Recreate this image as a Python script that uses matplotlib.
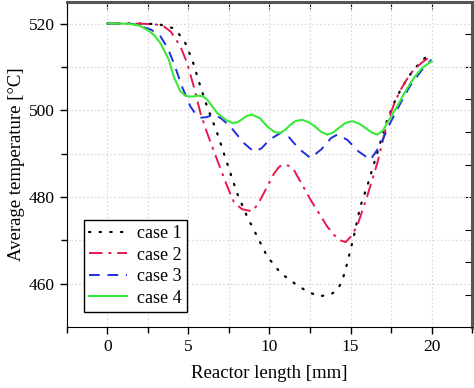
import matplotlib.pyplot as plt
import numpy as np
from matplotlib.ticker import MultipleLocator, FixedLocator

plt.rcParams['font.family'] = ['Liberation Serif', 'DejaVu Serif']

# case 1 (black dotted)
x1 = [0, 1, 2, 3, 3.5, 4.0, 4.3, 4.81, 5.23, 5.74, 6.15, 6.77, 7.39, 8.0, 8.62, 9.24, 9.86,
      10.68, 11.5, 12.33, 13.05, 13.77, 14.2, 14.5, 14.8, 15.2, 15.6, 16.03, 16.65, 17.26,
      17.7, 18.1, 18.5, 18.9, 19.5, 20]
y1 = [520, 520, 520, 519.9, 519.6, 519.0, 518.2, 515.5, 511.7, 505.5, 500.9, 494.8, 487.8, 480.9,
      475.5, 470.9, 466.3, 462.5, 460.2, 458.2, 457.1, 457.5, 458.6, 460.8, 464.8, 470.9, 477.8,
      482.5, 490.2, 497.8, 501.8, 504.8, 507.3, 509.4, 511.8, 513.2]

# case 2 (red dash-dot)
x2 = [0, 1, 2, 3, 3.5, 3.9, 4.5, 4.92, 5.33, 5.74, 6.15, 6.77, 7.39, 7.8, 8.3, 8.93, 9.3, 9.65,
      10.26, 10.6, 10.88, 11.2, 11.5, 12.53, 13.56, 14.0, 14.38, 14.7, 15.0, 15.4, 16.03, 16.65, 17.26,
      17.7, 18.1, 18.5, 18.9, 19.5, 20]
y2 = [520, 520, 520, 519.8, 519.3, 518.2, 514.8, 510.9, 505.5, 499.4, 494.8, 488.6, 482.5, 478.9,
      477.2, 476.7, 478.4, 480.9, 485.3, 487.0, 487.5, 487.2, 486.3, 479.4, 473.2, 471.2, 470.0,
      469.6, 470.8, 473.2, 480.2, 487.8, 497.1, 501.6, 504.8, 507.3, 509.4, 511.3, 512.5]

# case 3 (blue dashed)
x3 = [0, 1, 1.6, 2.04, 2.7, 3.27, 3.7, 4.1, 4.6, 5.12, 5.4, 5.74, 6.1, 6.54, 7.0, 7.6,
      8.4, 9.03, 9.5, 10.0, 10.68, 11.2, 11.8, 12.53, 13.2, 13.8, 14.18, 14.8, 15.5,
      16.23, 16.85, 17.3, 17.88, 18.3, 18.7, 19.4, 20]
y3 = [520, 520, 519.9, 519.4, 518.6, 517.1, 514.5, 510.9, 505.5, 500.9, 499.4, 498.3,
      498.4, 499.0, 498.2, 496.2, 492.5, 490.5, 491.2, 493.2, 494.8, 493.8, 491.2, 489.0,
      491.0, 493.6, 494.4, 493.2, 490.5, 488.6, 492.0, 496.0, 500.2, 503.2, 505.8, 509.3, 511.7]

# case 4 (green solid)
x4 = [0, 1, 1.63, 2.0, 2.45, 2.9, 3.27, 3.79, 4.09, 4.5, 4.8, 5.02, 5.3, 5.64, 5.9, 6.15, 6.77,
      7.3, 7.7, 8.0, 8.3, 8.6, 8.93, 9.4, 9.86, 10.3, 10.68, 11.0, 11.3, 11.6, 12.0, 12.4,
      12.8, 13.2, 13.56, 13.9, 14.3, 14.7, 15.1, 15.5, 15.9, 16.3, 16.65, 17.0, 17.26, 17.88,
      18.3, 18.7, 19.0, 19.42, 20]
y4 = [520, 520, 519.8, 519.5, 518.6, 517.3, 515.5, 511.7, 507.8, 504.4, 503.4, 503.2, 503.2,
      503.4, 503.2, 502.5, 499.4, 497.8, 497.1, 497.2, 497.9, 498.7, 499.0, 498.2, 496.3,
      495.0, 494.8, 495.6, 496.7, 497.5, 497.8, 497.3, 496.3, 495.0, 494.4, 494.8, 496.0,
      497.1, 497.5, 497.0, 496.0, 494.9, 494.4, 495.3, 497.1, 500.9, 503.8, 506.3, 507.9,
      509.8, 511.3]

labels = ['case 1', 'case 2', 'case 3', 'case 4']

fig = plt.figure(figsize=(4.74, 3.88), dpi=100)
ax = fig.add_axes([0.141, 0.157, 0.855, 0.838])

ax.plot(x1, y1, color='black', lw=1.6, linestyle=(0, (0.6, 4.2)), dash_capstyle='round', label=labels[0])
ax.plot(x2, y2, color='#e8184c', lw=1.4, linestyle=(0, (7, 3, 1.5, 3)), label=labels[1])
ax.plot(x3, y3, color='#1f2fe0', lw=1.4, linestyle=(0, (5.5, 4)), label=labels[2])
ax.plot(x4, y4, color='#3ae83a', lw=1.5, linestyle='-', label=labels[3])

ax.set_xlim(-2.5, 22.5)
ax.set_ylim(450, 525)
ax.xaxis.set_major_locator(FixedLocator([0, 5, 10, 15, 20]))
ax.xaxis.set_minor_locator(FixedLocator([-2.5, 2.5, 7.5, 12.5, 17.5, 22.5]))
ax.yaxis.set_major_locator(FixedLocator([460, 480, 500, 520]))
ax.yaxis.set_minor_locator(FixedLocator([470, 490, 510]))
ax.tick_params(which='both', direction='out', labelsize=12.5, top=False, right=False)
ax.tick_params(which='major', length=5, width=1)
ax.tick_params(which='minor', length=4, width=1)
ax.grid(True, which='both', color='#d8d8d8', linestyle=(0, (1.5, 2)), lw=0.8)

for s in ['top', 'right']:
    ax.spines[s].set_linewidth(2.2)
    ax.spines[s].set_color('#555555')

top = ax.secondary_xaxis('top')
top.set_xticks([-2.5, 0, 2.5, 5, 7.5, 10, 12.5, 15, 17.5, 20, 22.5])
top.tick_params(direction='in', length=5, labeltop=False)
top.spines['top'].set_visible(False)

right = ax.secondary_yaxis('right')
right.set_yticks([457.5, 465, 472.5, 480, 487.5, 495, 502.5, 510, 517.5])
right.tick_params(direction='in', length=5, labelright=False)
right.spines['right'].set_visible(False)

ax.set_xlabel('Reactor length [mm]', fontsize=13.5, labelpad=7)
ax.set_ylabel('Average temperature [°C]', fontsize=13.5, labelpad=3)

leg = ax.legend(loc='lower left', bbox_to_anchor=(0.042, 0.046), borderaxespad=0, fontsize=13,
                frameon=True, fancybox=False, edgecolor='black', framealpha=1, handlelength=2.1,
                borderpad=0.3, labelspacing=0.25, handletextpad=0.55)
leg.get_frame().set_linewidth(1.0)

fig.savefig('out.png', dpi=100)
